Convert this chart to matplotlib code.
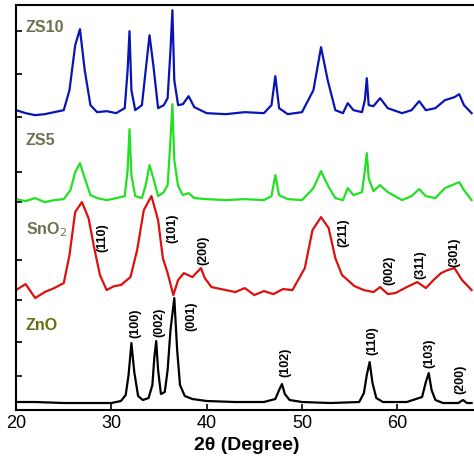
import matplotlib
matplotlib.use('Agg')
import matplotlib.pyplot as plt

plt.rcParams['font.family'] = ['Liberation Sans', 'DejaVu Sans']

# intensities in arbitrary units (already stacked)
zno_x = [20, 22, 25, 28, 30, 31.0, 31.5, 31.8, 32.1, 32.4, 32.8, 33.3, 33.9, 34.3, 34.5, 34.7, 34.9, 35.2, 35.6, 35.9, 36.2, 36.6, 36.9, 37.2, 37.7, 38.5, 40, 43, 46, 47.2, 47.6, 47.9, 48.2, 48.7, 50, 53, 56, 56.5, 56.8, 57.1, 57.4, 57.8, 58.5, 61, 62.6, 63.0, 63.3, 63.6, 64.0, 64.8, 66.4, 66.9, 67.3, 67.8]
zno_y = [8, 8, 7, 7, 7, 9, 15, 35, 67, 38, 14, 10, 12, 25, 52, 69, 40, 16, 18, 40, 80, 112, 60, 25, 14, 11, 9, 8, 8, 11, 20, 26, 16, 10, 8, 7, 8, 17, 35, 48, 27, 12, 8, 8, 13, 28, 37, 20, 10, 7, 7, 10, 7, 7]

sno2_x = [20, 21, 22, 23, 24, 25, 25.6, 26.2, 26.9, 27.6, 28.2, 28.8, 29.5, 30.3, 31, 32, 32.7, 33.4, 34.2, 34.9, 35.4, 35.9, 36.5, 37, 37.6, 38.5, 39.0, 39.4, 39.8, 40.5, 42, 43, 44, 45, 46, 47, 48, 49, 50.3, 51.1, 52.0, 52.8, 53.5, 54.2, 54.8, 55.5, 56.5, 57.5, 58.2, 59.0, 59.8, 61, 62.1, 63, 63.8, 64.6, 65.3, 66.0, 66.8, 67.8]
sno2_y = [120, 126, 112, 118, 122, 127, 155, 198, 208, 192, 162, 135, 120, 124, 125, 133, 160, 200, 214, 190, 152, 137, 115, 130, 137, 133, 138, 142, 132, 123, 120, 118, 122, 115, 119, 116, 121, 120, 142, 180, 193, 182, 152, 135, 130, 124, 120, 118, 123, 116, 117, 123, 128, 122, 130, 137, 140, 142, 130, 120]

zs5_x = [20, 21, 22, 23, 24, 25, 25.7, 26.2, 26.7, 27.2, 27.8, 28.5, 29.5, 30.5, 31.4, 31.7, 31.9, 32.1, 32.5, 33.2, 33.6, 34.0, 34.4, 34.9, 35.5, 35.9, 36.2, 36.4, 36.6, 37.0, 37.5, 38.1, 38.7, 40, 42, 44, 46, 46.8, 47.2, 47.6, 48.5, 50, 51.2, 52.0, 52.7, 53.5, 54.3, 54.8, 55.4, 56.3, 56.6, 56.8, 57.0, 57.5, 58.2, 59, 60.5, 61.5, 62.3, 63, 64, 65, 66, 66.5, 67.0, 67.8]
zs5_y = [211, 209, 212, 208, 210, 211, 220, 238, 247, 232, 215, 212, 210, 212, 214, 240, 281, 235, 214, 212, 225, 245, 232, 214, 218, 225, 270, 306, 250, 224, 215, 217, 212, 211, 210, 211, 210, 214, 235, 215, 211, 210, 222, 239, 225, 212, 210, 222, 215, 218, 240, 257, 232, 219, 225, 218, 210, 214, 221, 214, 212, 222, 226, 228, 220, 210]

zs10_x = [20, 21, 22, 23, 24, 25, 25.6, 26.2, 26.7, 27.2, 27.8, 28.5, 29.5, 30.5, 31.4, 31.7, 31.9, 32.1, 32.5, 33.2, 33.6, 34.0, 34.4, 34.9, 35.5, 35.9, 36.2, 36.4, 36.6, 37.0, 37.5, 38.1, 38.7, 40, 42, 44, 46, 46.8, 47.2, 47.6, 48.5, 50, 51.2, 52.0, 52.7, 53.5, 54.3, 54.8, 55.4, 56.3, 56.6, 56.8, 57.0, 57.5, 58.2, 59, 60.5, 61.5, 62.3, 63, 64, 65, 66, 66.5, 67.0, 67.8]
zs10_y = [300, 297, 295, 296, 298, 300, 320, 365, 381, 340, 305, 298, 299, 297, 302, 340, 379, 320, 300, 305, 340, 375, 345, 302, 305, 312, 360, 400, 330, 305, 306, 314, 303, 297, 296, 298, 297, 305, 334, 302, 296, 298, 320, 363, 330, 300, 297, 307, 300, 298, 310, 332, 305, 304, 312, 302, 297, 300, 309, 300, 302, 310, 313, 316, 305, 297]

hkl_sno2 = ['(110)', '(101)', '(200)', '(211)', '(002)', '(311)', '(301)']
hkl_sno2_x = [29.1, 36.4, 39.7, 54.3, 59.2, 62.4, 66.0]
hkl_sno2_y = [172, 182, 160, 177, 140, 145, 158]
hkl_zno = ['(100)', '(002)', '(001)', '(102)', '(110)', '(103)', '(200)']
hkl_zno_x = [32.5, 35.0, 38.4, 48.3, 57.4, 63.4, 66.6]
hkl_zno_y = [87, 88, 94, 48, 69, 57, 31]

names = ['ZS10', 'ZS5', 'SnO$_2$', 'ZnO']
name_y = [383, 270, 180, 85]
name_colors = ['#707050', '#707050', '#707050', '#6b6b10']

fig = plt.figure(figsize=(4.74, 4.74), dpi=100)
ax = fig.add_axes([0.034, 0.135, 0.975, 0.854])

ax.plot(zs10_x, zs10_y, color='#0a14b4', lw=1.6)
ax.plot(zs5_x, zs5_y, color='#22e022', lw=1.6)
ax.plot(sno2_x, sno2_y, color='#dd1010', lw=1.6)
ax.plot(zno_x, zno_y, color='black', lw=1.6)

for t, x, y in zip(hkl_sno2, hkl_sno2_x, hkl_sno2_y):
    ax.text(x, y, t, rotation=90, ha='center', va='center', fontsize=9, fontweight='bold')
for t, x, y in zip(hkl_zno, hkl_zno_x, hkl_zno_y):
    ax.text(x, y, t, rotation=90, ha='center', va='center', fontsize=9, fontweight='bold')
for t, y, c in zip(names, name_y, name_colors):
    ax.text(21.0, y, t, ha='left', va='center', fontsize=11.5, fontweight='bold', color=c)

ax.set_xlim(20, 68.5)
ax.set_ylim(0, 405)
ax.set_xticks([20, 30, 40, 50, 60])
ax.set_yticks([34, 68, 110, 150, 208, 238, 293, 336, 379])
ax.set_yticklabels([])
ax.tick_params(axis='both', direction='in', length=4, width=1.2, labelsize=13)
ax.set_xlabel('2\u03b8 (Degree)', fontsize=14, fontweight='bold', labelpad=4)
for s in ax.spines.values():
    s.set_linewidth(1.5)
ax.spines['right'].set_visible(False)

fig.savefig('out.png', dpi=100)
